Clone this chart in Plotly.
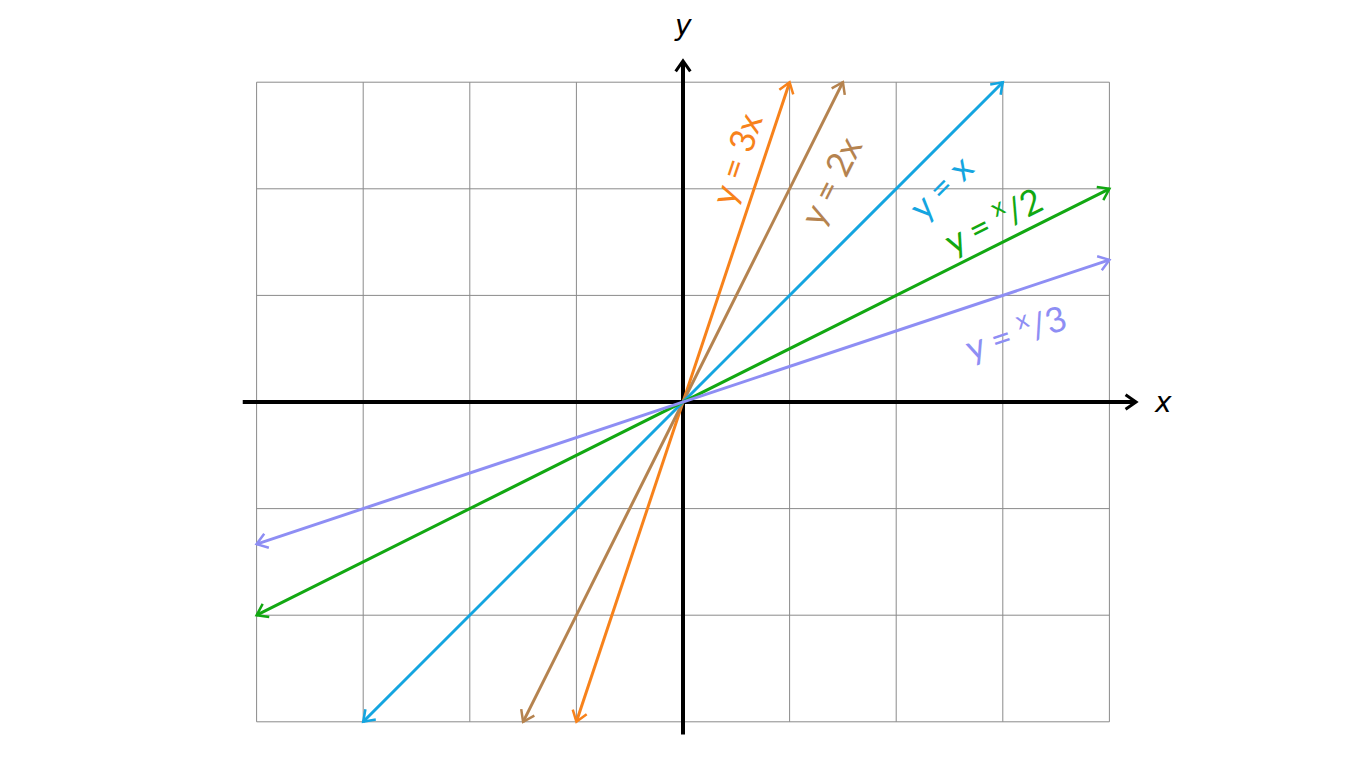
import numpy as np
import plotly.graph_objects as go

# lines y = k*x, drawn from -x_end to x_end
slopes = [3, 2, 1, 1 / 2, 1 / 3]
x_ends = [1, 1.5, 3, 4, 4]
colors = ['#F7821B', '#B5834F', '#14A5E0', '#12A812', '#8E8EF4']
labels = ['y = 3x', 'y = 2x', 'y = x', 'y = <sup>x</sup>/2', 'y = <sup>x</sup>/3']
label_x = [0.49, 1.38, 2.41, 2.90, 3.11]
label_y = [2.29, 2.08, 2.03, 1.73, 0.68]

grid_x = [-4, -3, -2, -1, 0, 1, 2, 3, 4]
grid_y = [-3, -2, -1, 0, 1, 2, 3]

PX = 106.6  # pixels per unit
W, H = 1366, 768
OX, OY = 675, 394  # origin inside the figure (page adds 8px body margin)


def chevron(tip_x, tip_y, dx, dy, size=0.12, spread=np.radians(35)):
    # open arrow head at (tip_x, tip_y) pointing along (dx, dy)
    ang = np.arctan2(dy, dx)
    xs, ys = [], []
    for s in (spread, None, -spread):
        if s is None:
            xs.append(tip_x)
            ys.append(tip_y)
        else:
            xs.append(tip_x - size * np.cos(ang + s))
            ys.append(tip_y - size * np.sin(ang + s))
    return xs, ys


fig = go.Figure()

# grid
for gx in grid_x:
    fig.add_shape(type='line', x0=gx, x1=gx, y0=grid_y[0], y1=grid_y[-1],
                  line=dict(color='#8a8a8a', width=1), layer='below')
for gy in grid_y:
    fig.add_shape(type='line', x0=grid_x[0], x1=grid_x[-1], y0=gy, y1=gy,
                  line=dict(color='#8a8a8a', width=1), layer='below')

# axes
ax_x = [-4.13, 4.25]
ax_y = [-3.12, 3.2]
fig.add_trace(go.Scatter(x=ax_x, y=[0, 0], mode='lines',
                         line=dict(color='black', width=4), hoverinfo='skip'))
fig.add_trace(go.Scatter(x=[0, 0], y=ax_y, mode='lines',
                         line=dict(color='black', width=4), hoverinfo='skip'))
hx, hy = chevron(ax_x[1], 0, 1, 0)
fig.add_trace(go.Scatter(x=hx, y=hy, mode='lines', line=dict(color='black', width=3)))
hx, hy = chevron(0, ax_y[1], 0, 1)
fig.add_trace(go.Scatter(x=hx, y=hy, mode='lines', line=dict(color='black', width=3)))

# the lines with arrow heads at both ends
for k, xe, c in zip(slopes, x_ends, colors):
    fig.add_trace(go.Scatter(x=[-xe, xe], y=[-k * xe, k * xe], mode='lines',
                             line=dict(color=c, width=3), hoverinfo='skip'))
    for sgn in (1, -1):
        hx, hy = chevron(sgn * xe, sgn * k * xe, sgn, sgn * k)
        fig.add_trace(go.Scatter(x=hx, y=hy, mode='lines',
                                 line=dict(color=c, width=2.5), hoverinfo='skip'))

# rotated labels along each line
for k, t, lx, ly, c in zip(slopes, labels, label_x, label_y, colors):
    fig.add_annotation(x=lx, y=ly, text=t, showarrow=False,
                       textangle=-np.degrees(np.arctan(k)),
                       font=dict(family='Lato', size=35, color=c))

fig.add_annotation(x=4.5, y=0, text='<i>x</i>', showarrow=False,
                   font=dict(family='DejaVu Sans', size=28, color='black'))
fig.add_annotation(x=0, y=3.53, text='<i>y</i>', showarrow=False,
                   font=dict(family='DejaVu Sans', size=28, color='black'))

fig.update_xaxes(range=[-OX / PX, (W - OX) / PX], visible=False)
fig.update_yaxes(range=[-(H - OY) / PX, OY / PX], visible=False)
fig.update_layout(width=W, height=H, margin=dict(l=0, r=0, t=0, b=0),
                  plot_bgcolor='white', paper_bgcolor='white', showlegend=False)

fig.write_html("out.html")
